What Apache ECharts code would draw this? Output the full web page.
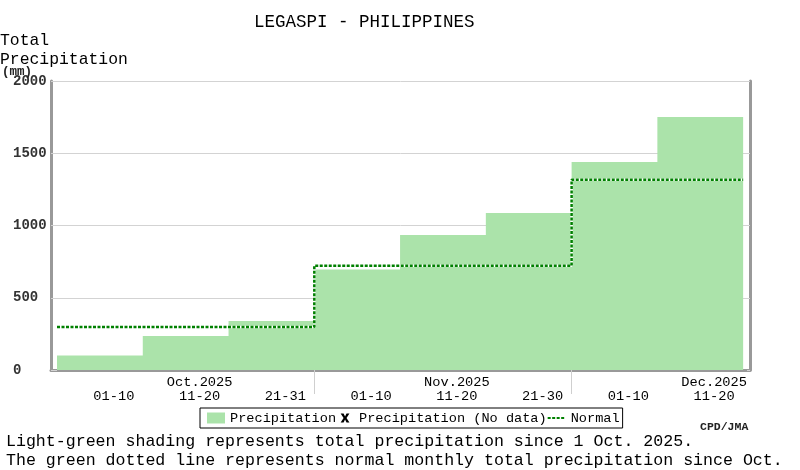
<!DOCTYPE html>
<html>
<head>
<meta charset="utf-8">
<script src="https://cdn.jsdelivr.net/npm/echarts@6/dist/echarts.min.js"></script>
<style>
  html, body { margin: 0; padding: 0; background: #fff; }
  #chart { width: 800px; height: 470px; }
</style>
</head>
<body>
<div id="chart"></div>
<script>
// decades since 1 Oct. 2025
var decadeLabels = ['01-10', '11-20', '21-31', '01-10', '11-20', '21-30', '01-10', '11-20'];
// month name is written above the 11-20 decade
var monthLabels = { 1: 'Oct.2025', 4: 'Nov.2025', 7: 'Dec.2025' };
// accumulated precipitation (mm) at each decade
var precipitation = [100, 235, 339, 695, 934, 1086, 1439, 1751];
// accumulated normal (mm), monthly step
var normal = [298, 298, 298, 722, 722, 722, 1317, 1317];
var yTicks = [0, 500, 1000, 1500, 2000];

var mono = '"Liberation Mono", "DejaVu Sans Mono", monospace';

// step points: value i holds from decade i to decade i+1
function stepPoints(arr) {
  var pts = [];
  for (var i = 0; i < arr.length; i++) pts.push([i, arr[i]]);
  pts.push([arr.length, arr[arr.length - 1]]);
  return pts;
}

// decade boundaries (0..8), a month starts where the label goes back to 01-10
var boundaries = decadeLabels.map(function (d, i) { return String(i); }).concat([String(decadeLabels.length)]);

var chart = echarts.init(document.getElementById('chart'));

var option = {
  animation: false,
  title: [
    { text: 'LEGASPI - PHILIPPINES', left: 254, top: 13, padding: 0,
      textStyle: { fontFamily: mono, fontSize: 17.5, fontWeight: 'normal', color: '#000' } },
    { text: 'Total\nPrecipitation', left: 0, top: 31, padding: 0,
      textStyle: { fontFamily: mono, fontSize: 16.4, fontWeight: 'normal', color: '#000', lineHeight: 19 } },
    { text: '(mm)', left: 2, top: 65, padding: 0,
      textStyle: { fontFamily: mono, fontSize: 12.5, fontWeight: 'bold', color: '#222' } },
    { text: 'CPD/JMA', left: 700, top: 421, padding: 0,
      textStyle: { fontFamily: mono, fontSize: 11.5, fontWeight: 'bold', color: '#222' } },
    { text: 'Light-green shading represents total precipitation since 1 Oct. 2025.\nThe green dotted line represents normal monthly total precipitation since Oct.',
      left: 6, top: 432, padding: 0,
      textStyle: { fontFamily: mono, fontSize: 16.6, fontWeight: 'normal', color: '#000', lineHeight: 19 } }
  ],
  legend: {
    left: 200, top: 408,
    padding: [3, 3, 3, 7],
    itemGap: 0,
    itemWidth: 18,
    itemHeight: 11,
    borderColor: '#000',
    borderWidth: 1,
    textStyle: { fontFamily: mono, fontSize: 13.6, color: '#000' },
    data: [
      { name: 'Precipitation', icon: 'rect' },
      { name: 'Precipitation (No data)' },
      { name: 'Normal', itemStyle: { opacity: 0 } }
    ]
  },
  grid: [
    { left: 51, right: 50, top: 81, bottom: 100 },
    { left: 57, right: 57, top: 81, bottom: 100 }
  ],
  xAxis: [
    {
      type: 'value', gridIndex: 0, min: -0.07, max: 8.08,
      axisLine: { show: true, onZero: false, lineStyle: { color: '#999', width: 3 } },
      axisTick: { show: false }, axisLabel: { show: false }, splitLine: { show: false }
    },
    {
      type: 'category', gridIndex: 1, position: 'bottom', data: decadeLabels, boundaryGap: true,
      axisLine: { show: false },
      axisTick: { show: false },
      axisLabel: {
        interval: 0, margin: 5,
        fontFamily: mono, fontSize: 13.7, color: '#000', lineHeight: 14,
        padding: [0, 0, 0, 28],
        formatter: function (v, i) { return (monthLabels[i] || '') + '\n' + v; }
      }
    },
    {
      type: 'category', gridIndex: 1, position: 'bottom', data: boundaries, boundaryGap: false,
      axisLine: { show: false },
      axisLabel: { show: false },
      axisTick: {
        show: true, length: 24,
        interval: function (i) { return i > 0 && decadeLabels[i] === '01-10'; },
        lineStyle: { color: '#cfcfcf', width: 1 }
      }
    }
  ],
  yAxis: [
    {
      type: 'value', gridIndex: 0, min: yTicks[0], max: yTicks[yTicks.length - 1], interval: 500,
      axisLine: { show: true, onZero: false, lineStyle: { color: '#999', width: 3 } },
      axisTick: { show: true, inside: true, length: 6, lineStyle: { color: '#d3d3d3' } },
      axisLabel: {
        align: 'left', margin: 38, fontFamily: mono, fontSize: 14, fontWeight: 'bold', color: '#333',
        formatter: function (v) { return String(v); }
      },
      splitLine: { show: true, lineStyle: { color: '#d3d3d3', width: 1 } }
    },
    {
      type: 'value', gridIndex: 0, position: 'right', min: 0, max: 2000, interval: 500,
      axisLine: { show: true, onZero: false, lineStyle: { color: '#999', width: 3 } },
      axisTick: { show: true, inside: true, length: 3, lineStyle: { color: '#d3d3d3' } },
      axisLabel: { show: false }, splitLine: { show: false }
    },
    { type: 'value', gridIndex: 1, min: 0, max: 2000, show: false }
  ],
  series: [
    {
      name: 'Precipitation', type: 'line', xAxisIndex: 0, yAxisIndex: 0,
      step: 'end', data: stepPoints(precipitation),
      showSymbol: false, symbol: 'rect',
      itemStyle: { color: '#abe3aa' },
      lineStyle: { width: 0, color: '#abe3aa' },
      areaStyle: { color: '#abe3aa', opacity: 1 }
    },
    {
      name: 'Precipitation (No data)', type: 'line', xAxisIndex: 0, yAxisIndex: 0,
      data: [], symbolKeepAspect: true,
      symbol: 'path://M0,0 L2,0 L3,2 L4,0 L6,0 L4,3 L6,6 L4,6 L3,4 L2,6 L0,6 L2,3 Z',
      itemStyle: { color: '#000' }, lineStyle: { width: 0 }
    },
    {
      name: 'NormalUnder', type: 'line', xAxisIndex: 0, yAxisIndex: 0,
      step: 'end', data: stepPoints(normal), showSymbol: false, silent: true,
      lineStyle: { color: '#fff', width: 2.5 }
    },
    {
      name: 'Normal', type: 'line', xAxisIndex: 0, yAxisIndex: 0,
      step: 'end', data: stepPoints(normal), showSymbol: false, symbol: 'none',
      itemStyle: { color: '#008000' },
      lineStyle: { color: '#008000', width: 2.5, type: [3, 1.5] }
    }
  ]
};
chart.setOption(option);
</script>
</body>
</html>
